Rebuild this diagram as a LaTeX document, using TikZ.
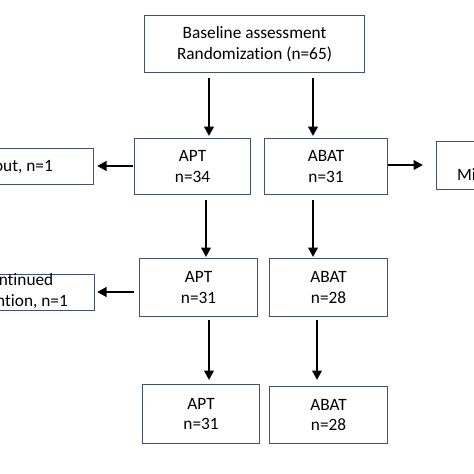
\documentclass[tikz,border=0pt]{standalone}
\usepackage{fontspec}
\setmainfont[Ligatures=CommonOff]{Carlito}
\usetikzlibrary{arrows.meta,calc}
\definecolor{boxc}{HTML}{42526E}
\tikzset{
  box/.style={draw=boxc, line width=1.1pt, fill=white, inner sep=0pt, anchor=north west},
  lbl/.style={font=\fontsize{17.3}{20.5}\selectfont, align=center, inner sep=0pt, text=black},
  arr/.style={line width=2.7pt, -{Triangle[length=9.5pt,width=9.5pt]}}
}
\newcommand{\bx}[5]{\node[box, minimum width=#4pt, minimum height=#5pt] (#1) at (#2,#3) {};}
\begin{document}
\begin{tikzpicture}[x=1pt,y=-1pt]
\useasboundingbox (0,0) rectangle (474,474);
\clip (0,0) rectangle (474,474);
\fill[white] (0,0) rectangle (474,474);
% boxes
\bx{top}{144}{15}{220}{57}
\bx{apta}{134}{138}{116}{56}
\bx{abata}{264}{138}{123}{56}
\bx{lefta}{-60}{148}{153}{36}
\bx{righta}{436}{141}{104}{48}
\bx{aptb}{139}{258}{118}{58}
\bx{abatb}{269}{258}{118}{58}
\bx{leftb}{-80}{274}{174}{36}
\bx{aptc}{142}{384}{117}{59}
\bx{abatc}{269}{386}{118}{57}
% texts
\node[lbl] (topt) at (top.center) {Baseline assessment\\Randomization (n=65)};
\node[lbl] (aptat) at (apta.center) {APT\\n=34};
\node[lbl] (abatat) at (abata.center) {ABAT\\n=31};
\node[lbl] (aptbt) at (aptb.center) {APT\\n=31};
\node[lbl] (abatbt) at (abatb.center) {ABAT\\n=28};
\node[lbl] (aptct) at (aptc.center) {APT\\n=31};
\node[lbl] (abatct) at (abatc.center) {ABAT\\n=28};
\node[lbl, anchor=east] (leftat) at (53,167) {Drop out, n=1};
\node[lbl, anchor=east] (leftbt) at (68,291) {Discontinued\\intervention, n=1};
\node[lbl, anchor=west] (rightat) at (457,176) {Missing};
% arrows
\draw[arr] ($(top.south -| 209,0)+(0,5)$) -- ($(apta.north -| 209,0)+(0,-2)$);
\draw[arr] ($(top.south -| 313,0)+(0,5)$) -- ($(abata.north -| 313,0)+(0,-2)$);
\draw[arr] ($(apta.south -| 206,0)+(0,5)$) -- ($(aptb.north -| 206,0)+(0,-1)$);
\draw[arr] ($(abata.south -| 313,0)+(0,5)$) -- ($(abatb.north -| 313,0)+(0,-1)$);
\draw[arr] ($(aptb.south -| 209,0)+(0,3)$) -- ($(aptc.north -| 209,0)+(0,-4)$);
\draw[arr] ($(abatb.south -| 317,0)+(0,3)$) -- ($(abatc.north -| 317,0)+(0,-6)$);
\draw[arr] ($(apta.west |- 0,166)+(-1,0)$) -- ($(lefta.east |- 0,166)+(3,0)$);
\draw[arr] ($(abata.east |- 0,165)+(0,0)$) -- ($(righta.west |- 0,165)+(-13,0)$);
\draw[arr] ($(aptb.west |- 0,292)+(-5,0)$) -- ($(leftb.east |- 0,292)+(2,0)$);
\end{tikzpicture}
\end{document}
